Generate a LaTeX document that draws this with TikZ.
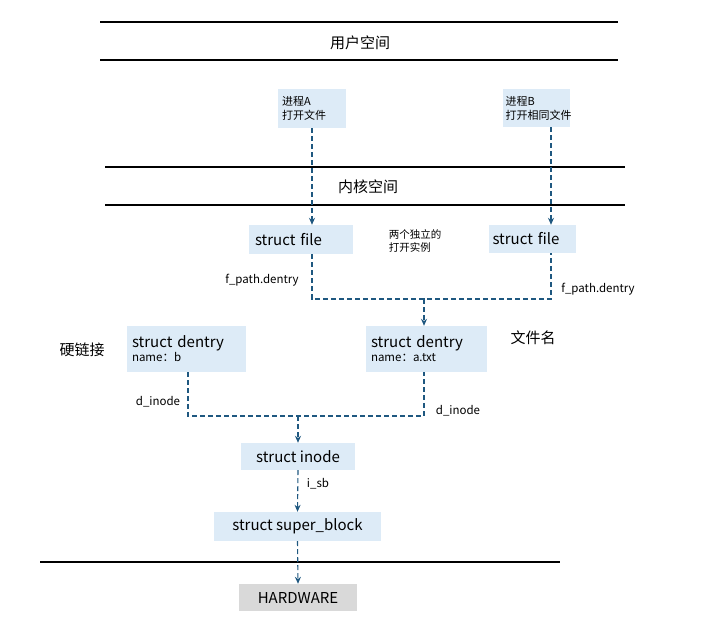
\documentclass[tikz,border=0pt]{standalone}
\usepackage{fontspec}
\setmainfont{Noto Sans CJK SC}
\usetikzlibrary{arrows.meta,positioning}
\definecolor{boxblue}{RGB}{221,235,247}
\definecolor{linkblue}{RGB}{31,88,128}
\definecolor{hwgray}{RGB}{217,217,217}

\begin{document}
\begin{tikzpicture}[x=1pt,y=-1pt,
  box/.style={fill=boxblue, inner sep=0pt, align=left, font=\fontsize{15}{17}\selectfont},
  small/.style={fill=boxblue, inner sep=0pt, align=left, font=\fontsize{11}{14}\selectfont},
  lbl/.style={inner sep=1pt, font=\fontsize{11.5}{14}\selectfont},
  layer/.style={font=\fontsize{15}{17}\selectfont},
  sep/.style={line width=1.6pt},
  link/.style={linkblue, dashed, line width=1.1pt, dash pattern=on 5pt off 3pt},
  tip/.style={-{Stealth[length=7pt,width=6pt]}}]

\useasboundingbox (0,0) rectangle (720,622);

% layers
\draw [sep] (100,22) -- (618,22);
\draw [sep] (100,60) -- (618,60);
\node [layer] (user) at (360,43) {用户空间};
\draw [sep] (105,167) -- (625,167);
\draw [sep] (105,205) -- (625,205);
\node [layer] (kernel) at (368,187) {内核空间};
\draw [sep] (40,562) -- (560,562);

% processes
\node [small, minimum width=68, minimum height=39, text width=60] (pA) at (312,108.5) {进程A\\打开文件};
\node [small, minimum width=67, minimum height=38, text width=62] (pB) at (536.5,108) {进程B\\打开相同文件};

% structures
\node [box, minimum width=104, minimum height=29, text width=92] (fA) at (301,239.5) {struct file};
\node [box, minimum width=87, minimum height=28, text width=80] (fB) at (532.5,239) {struct file};
\node [box, minimum width=119, minimum height=46, text width=109] (dB) at (186.5,349)
  {struct dentry\\[-3pt]{\fontsize{11.5}{13}\selectfont name：b}};
\node [box, minimum width=121, minimum height=46, text width=111] (dA) at (426.5,349)
  {struct dentry\\[-3pt]{\fontsize{11.5}{13}\selectfont name：a.txt}};
\node [box, minimum width=114, minimum height=27, align=center] (ino) at (298,456.5) {struct inode};
\node [box, minimum width=167, minimum height=29, align=center] (sb) at (297.5,526.5) {struct super\_block};
\node [box, fill=hwgray, minimum width=118, minimum height=27, align=center] (hw) at (298,597.5) {HARDWARE};

% side labels
\node [lbl, align=left, font=\fontsize{10.5}{13}\selectfont] (inst) at (415,241) {两个独立的\\打开实例};
\node [lbl] (fpA) at (262,280) {f\_path.dentry};
\node [lbl] (fpB) at (598,289) {f\_path.dentry};
\node [layer] (hard) at (82,350) {硬链接};
\node [layer] (fname) at (533,338) {文件名};
\node [lbl] (diB) at (158,402) {d\_inode};
\node [lbl] (diA) at (458,411) {d\_inode};
\node [lbl] (isb) at (318,484) {i\_sb};

% connectors
\coordinate (jf) at (424,299);
\coordinate (jd) at (298,416);
\draw [link, tip] (pA.south) -- (fA.north -| pA.south);
\draw [link, tip] (pB.south -| 551,0) -- (fB.north -| 551,0);
\draw [link] (fA.south -| pA.south) |- (jf) -| (fB.south -| 551,0);
\draw [link, tip] (jf) -- (dA.north -| jf);
\draw [link] (dB.south -| 188,0) |- (jd) -| (dA.south -| jf);
\draw [link, tip] (jd) -- (ino.north);
\draw [link, tip] (ino.south) -- (sb.north);
\draw [link, tip] (sb.south) -- (hw.north);

\end{tikzpicture}
\end{document}
